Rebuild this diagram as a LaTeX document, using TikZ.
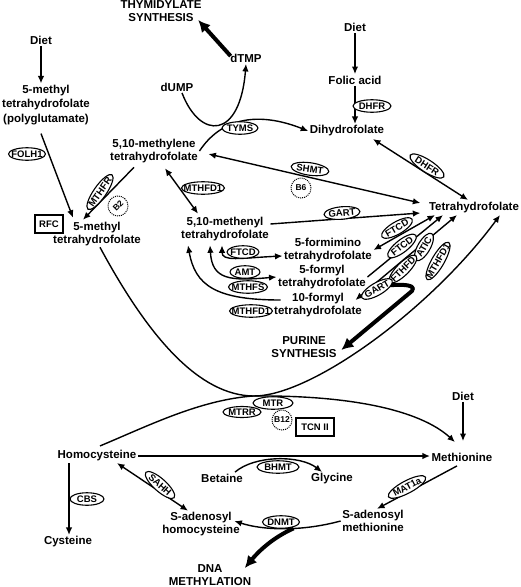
\documentclass[tikz,border=0pt]{standalone}
\usepackage{fontspec}
\setmainfont{Liberation Sans}
\usetikzlibrary{arrows.meta,shapes.geometric}
\begin{document}
\begin{tikzpicture}[x=1pt,y=1pt,
  txt/.style={inner sep=1.5pt, font=\fontsize{11.5}{12.5}\selectfont\bfseries, align=center},
  enz/.style={draw, fill=white, ellipse, line width=1.1pt, inner xsep=-30pt, inner ysep=-20pt, minimum height=12.5pt, minimum width=#1, font=\fontsize{9.5}{9.5}\selectfont\bfseries},
  vit/.style={draw, fill=white, circle, densely dotted, line width=1pt, inner sep=0pt, minimum size=20pt, font=\fontsize{8.5}{8.5}\selectfont\bfseries},
  boxn/.style={draw, rectangle, line width=1.1pt, inner sep=0pt, minimum height=18pt, minimum width=#1, font=\fontsize{9.5}{9.5}\selectfont\bfseries},
  conn/.style={line width=1.4pt, -{Latex[length=7.5pt,width=6.5pt]}},
  dconn/.style={line width=1.4pt, {Latex[length=7.5pt,width=6.5pt]}-{Latex[length=7.5pt,width=6.5pt]}},
  bigarr/.style={line width=4pt, line join=round, -{Latex[length=12pt,width=12pt]}},
]
\useasboundingbox (0,0) rectangle (520,-587);
% metabolites
\node[txt] (thym) at (161,-11) {THYMIDYLATE\\SYNTHESIS};
\node[txt] (dtmp) at (246,-58) {dTMP};
\node[txt] (dump) at (177,-87) {dUMP};
\node[txt] (diet1) at (41,-40) {Diet};
\node[txt, font=\fontsize{11.5}{14.5}\selectfont\bfseries] (mthfpg) at (46,-105) {5-methyl\\tetrahydrofolate\\(polyglutamate)};
\node[txt] (mthf) at (97,-234) {5-methyl\\tetrahydrofolate};
\node[txt] (methylene) at (154,-151) {5,10-methylene\\tetrahydrofolate};
\node[txt] (diet2) at (355,-27) {Diet};
\node[txt] (folic) at (355,-80) {Folic acid};
\node[txt] (dhf) at (347,-131) {Dihydrofolate};
\node[txt] (thf) at (474,-208) {Tetrahydrofolate};
\node[txt] (methenyl) at (225,-229) {5,10-methenyl\\tetrahydrofolate};
\node[txt] (formimino) at (328,-250) {5-formimino\\tetrahydrofolate};
\node[txt] (formyl5) at (322,-277) {5-formyl\\tetrahydrofolate};
\node[txt] (formyl10) at (318,-305) {10-formyl\\tetrahydrofolate};
\node[txt] (purine) at (304,-347) {PURINE\\SYNTHESIS};
\node[txt] (homocys) at (97,-456) {Homocysteine};
\node[txt] (methionine) at (462,-457) {Methionine};
\node[txt] (diet3) at (463,-396) {Diet};
\node[txt] (betaine) at (222,-478) {Betaine};
\node[txt] (glycine) at (332,-479) {Glycine};
\node[txt] (cysteine) at (68,-542) {Cysteine};
\node[txt] (sah) at (201,-524) {S-adenosyl\\homocysteine};
\node[txt] (sam) at (373,-521) {S-adenosyl\\methionine};
\node[txt] (dna) at (210,-575) {DNA\\METHYLATION};
\coordinate (mtrpt) at (253,-396);

% connectors
\draw[bigarr] ([xshift=2pt,yshift=-4pt]dtmp.north west) -- ([xshift=-5pt,yshift=-9pt]thym.east);
\draw[conn] ([xshift=5pt]dump.south) .. controls (200,-140) and (240,-140) .. (dtmp.south);
\draw[conn] (methylene.east) .. controls (220,-120) and (255,-110) .. (dhf.west);
\draw[conn] (diet1.south) -- (diet1.south |- mthfpg.north);
\draw[conn] ([xshift=-5pt,yshift=-7pt]mthfpg.south) -- ([xshift=-24pt,yshift=3pt]mthf.north);
\draw[conn] ([xshift=-20pt,yshift=-3pt]methylene.south) -- ([xshift=-14pt,yshift=1pt]mthf.north);
\draw[conn] (diet2) -- (folic);
\draw[conn] (folic.south) -- (folic.south |- dhf.north);
\draw[dconn] ([xshift=26pt,yshift=-1pt]dhf.south) -- ([xshift=-6pt,yshift=1pt]thf.north);
\draw[dconn] ([xshift=9pt,yshift=-3pt]methylene.east) -- ([xshift=-7pt,yshift=5pt]thf.west);
\draw[dconn] ([xshift=11pt,yshift=-4pt]methylene.south) -- ([xshift=-27pt,yshift=2pt]methenyl.north);
\draw[conn] ([yshift=5pt]methenyl.east) -- ([xshift=-7pt,yshift=-5pt]thf.west);
\draw[dconn] ([xshift=-3pt,yshift=-3pt]methenyl.south) .. controls (222,-262) and (240,-258) .. ([yshift=-6pt]formimino.west);
\draw[dconn] ([xshift=-15pt,yshift=-3pt]methenyl.south) .. controls (212,-280) and (230,-281) .. (formyl5.west);
\draw[conn] ([xshift=8pt,yshift=5pt]formyl10.west) .. controls (215,-300) and (195,-285) .. ([xshift=-37pt,yshift=-3pt]methenyl.south);
\draw[dconn] (formimino.east) -- ([xshift=-39pt]thf.south);
\draw[conn] (formyl5.east) -- ([xshift=-31pt]thf.south);
\draw[dconn] ([xshift=-8pt,yshift=5pt]formyl10.east) -- ([xshift=-17pt]thf.south) coordinate[pos=0.15] (gp);
\draw[bigarr] (gp) .. controls (395,-284) and (418,-283) .. (412,-291) -- ([xshift=3pt,yshift=-3pt]purine.east);
\draw[conn] ([xshift=3pt]mthf.south) .. controls (150,-340) and (200,-395) .. (mtrpt) .. controls (310,-397) and (430,-310) .. ([xshift=26pt]thf.south);
\draw[conn] ([xshift=3pt,yshift=3pt]homocys.north) .. controls (150,-425) and (200,-400) .. (mtrpt) .. controls (350,-395) and (420,-410) .. ([xshift=-7pt,yshift=9pt]methionine.north);
\draw[conn] (homocys.east) -- (homocys.east -| methionine.west);
\draw[conn] (diet3.south) -- ([xshift=1pt,yshift=10pt]methionine.north);
\draw[conn] ([xshift=-28pt]homocys.south) -- ([xshift=1pt]cysteine.north);
\draw[dconn] ([xshift=20pt]homocys.south) -- ([xshift=-13pt]sah.north);
\draw[conn] ([xshift=13pt]betaine.north) .. controls (255,-455) and (300,-455) .. ([xshift=-10pt]glycine.north);
\draw[conn] ([xshift=-5pt,yshift=-3pt]methionine.south) -- ([xshift=4pt]sam.north);
\draw[conn] (sam.west) .. controls (300,-532) and (262,-530) .. ([xshift=-7pt,yshift=3pt]sah.east) coordinate[pos=0.4] (dp);
\draw[bigarr] (dp) .. controls (272,-538) and (258,-552) .. ([xshift=-8pt,yshift=-5pt]dna.north east);

% enzymes and cofactors
\node[enz=36pt] (tyms) at (240,-128) {TYMS};
\node[enz=38pt] (dhfra) at (372,-106) {DHFR};
\node[enz=40pt, rotate=-33] (dhfrb) at (427,-166) {DHFR};
\node[enz=38pt, rotate=-8] (shmt) at (310,-169) {SHMT};
\node[vit] (b6) at (301,-188) {B6};
\node[enz=37pt] (folh1) at (27,-154) {FOLH1};
\node[enz=42pt, rotate=55] (mthfr) at (100,-192) {MTHFR};
\node[vit, rotate=45] (b2) at (118,-206) {B2};
\node[boxn=28pt] (rfc) at (49,-224) {RFC};
\node[enz=43pt] (mthfd1a) at (203,-188) {MTHFD1};
\node[enz=36pt, rotate=5] (gart1) at (342,-213) {GART};
\node[enz=32pt] (ftcda) at (243,-252) {FTCD};
\node[enz=30pt] (amt) at (245,-272) {AMT};
\node[enz=39pt] (mthfs) at (248,-287) {MTHFS};
\node[enz=43pt] (mthfd1b) at (251,-311) {MTHFD1};
\node[enz=35pt, rotate=30] (ftcdb) at (397,-228) {FTCD};
\node[enz=35pt, rotate=38] (ftcdc) at (402,-246) {FTCD};
\node[enz=31pt, rotate=60] (atic) at (424,-247) {ATIC};
\node[enz=43pt, rotate=60] (mthfd1c) at (438,-261) {MTHFD1};
\node[enz=37pt, rotate=45] (fthfd) at (403,-269) {FTHFD};
\node[enz=35pt, rotate=30] (gart2) at (377,-289) {GART};
\node[enz=40pt] (mtr) at (273,-403) {MTR};
\node[enz=38pt, minimum height=11pt] (mtrr) at (242,-412) {MTRR};
\node[vit] (b12) at (282,-420) {B12};
\node[boxn=38pt] (tcn) at (315,-427) {TCN II};
\node[enz=42pt] (bhmt) at (278,-467) {BHMT};
\node[enz=34pt] (cbs) at (87,-499) {CBS};
\node[enz=38pt, rotate=-42] (sahh) at (160,-485) {SAHH};
\node[enz=42pt, rotate=28] (mat1a) at (407,-487) {MAT1a};
\node[enz=37pt] (dnmt) at (281,-522) {DNMT};
\end{tikzpicture}
\end{document}
